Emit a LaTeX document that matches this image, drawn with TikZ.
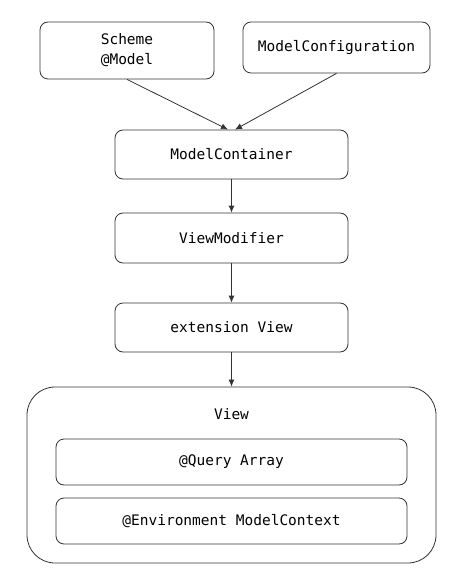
\documentclass[tikz,border=0pt]{standalone}
\usepackage{fontspec}
\setmonofont{DejaVu Sans Mono}
\usetikzlibrary{arrows.meta}

\begin{document}
\begin{tikzpicture}[x=1pt, y=-1pt]
\tikzset{
  blk/.style={draw=black!80, line width=0.8pt, rounded corners=8pt, inner sep=0pt,
    font=\ttfamily\fontsize{14.5}{20}\selectfont, align=center},
  flow/.style={-{Latex[length=7pt, width=6pt]}, draw=black!80, line width=0.8pt}
}
\fill[white] (0,0) rectangle (474,585);
\useasboundingbox (0,0) rectangle (474,585);
% Top row
\node[blk, minimum width=174pt, minimum height=57pt] (scheme) at (127,50.5) {Scheme\\@Model};
\node[blk, minimum width=187pt, minimum height=51pt] (config) at (336.5,47.5) {ModelConfiguration};
% Chain
\node[blk, minimum width=233pt, minimum height=49pt] (container) at (231.5,154.5) {ModelContainer};
\node[blk, minimum width=233pt, minimum height=50pt] (modifier) at (231.5,238) {ViewModifier};
\node[blk, minimum width=233pt, minimum height=49pt] (ext) at (231.5,327.5) {extension View};
% View
\node[blk, rounded corners=28pt, minimum width=409pt, minimum height=176pt] (view) at (231.5,475) {};
\node[blk, draw=none] (viewlabel) at (231.5,414) {View};
\node[blk, minimum width=351pt, minimum height=46pt] (query) at (231.5,462) {@Query Array};
\node[blk, minimum width=351pt, minimum height=46pt] (env) at (231.5,521) {@Environment ModelContext};
% Arrows
\draw[flow] (scheme.south) -- ([xshift=-3.5pt]container.north);
\draw[flow] (config.south) -- ([xshift=3.5pt]container.north);
\draw[flow] (container) -- (modifier);
\draw[flow] (modifier) -- (ext);
\draw[flow] (ext) -- (view);
\end{tikzpicture}
\end{document}
